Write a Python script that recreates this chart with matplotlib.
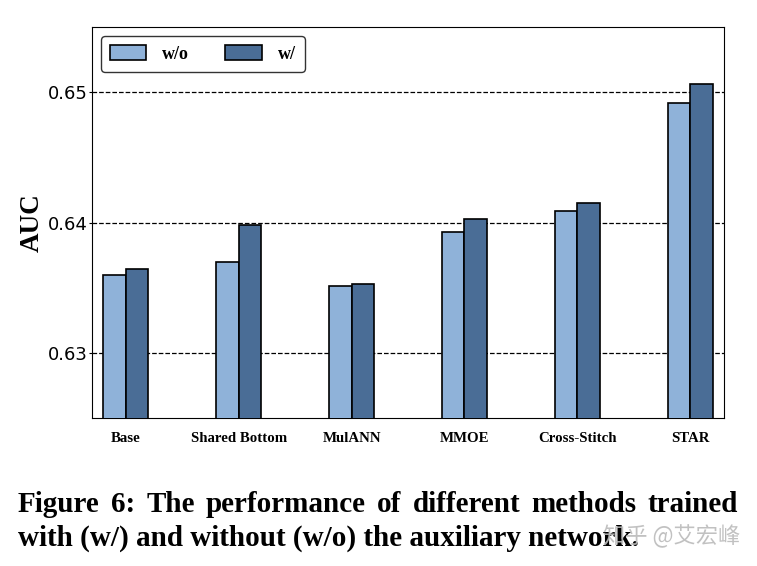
import matplotlib.pyplot as plt
import numpy as np

# --- data ---
methods = ['Base', 'Shared Bottom', 'MulANN', 'MMOE', 'Cross-Stitch', 'STAR']
auc_without = [0.6360, 0.6370, 0.6351, 0.6393, 0.6409, 0.6492]
auc_with = [0.6364, 0.6398, 0.6353, 0.6403, 0.6415, 0.6506]
y_ticks = [0.63, 0.64, 0.65]

light = '#8fb2d9'
dark = '#4a6d96'

fig = plt.figure(figsize=(7.57, 5.66), dpi=100)
ax = fig.add_axes([92 / 757, 1 - 418 / 566, 632 / 757, 391 / 566])

x = np.arange(len(methods))
w = 0.2
ax.bar(x - w / 2, auc_without, w, color=light, edgecolor='black',
       linewidth=1.2, label='w/o', zorder=3)
ax.bar(x + w / 2, auc_with, w, color=dark, edgecolor='black',
       linewidth=1.2, label='w/', zorder=3)

ax.set_xlim(-0.3, 5.3)
ax.set_ylim(0.625, 0.655)
ax.set_yticks(y_ticks)
ax.set_yticklabels(['0.63', '0.64', '0.65'], fontsize=13)
ax.yaxis.grid(True, linestyle='--', color='black', linewidth=0.9, zorder=0)
ax.set_xticks(x)
ax.set_xticklabels(methods, family='Liberation Serif', fontweight='bold',
                   fontsize=10.7)
ax.tick_params(axis='x', length=0, pad=10)
ax.tick_params(axis='y', length=2, pad=1, direction='out')
ax.set_ylabel('AUC', family='Liberation Serif', fontweight='bold',
              fontsize=19.5, labelpad=2)

leg = ax.legend(loc='upper left', ncol=2, frameon=True, fancybox=True,
                prop={'family': 'Liberation Serif', 'weight': 'bold',
                      'size': 13},
                handlelength=2.0, handleheight=0.9, columnspacing=2.0,
                handletextpad=0.9, borderpad=0.5, edgecolor='black')
leg.get_frame().set_linewidth(1.0)

# --- caption (first line justified word by word) ---
cap_font = dict(family='Liberation Serif', fontweight='bold', fontsize=21)
words = 'Figure 6: The performance of different methods trained'.split()
renderer = fig.canvas.get_renderer()
left, right = 18, 738
texts = [fig.text(0, 1 - 505 / 566, wd, va='center', ha='left', **cap_font)
         for wd in words]
widths = [t.get_window_extent(renderer).width for t in texts]
gap = (right - left - sum(widths)) / (len(words) - 1)
pos = left
for t, wd_px in zip(texts, widths):
    t.set_x(pos / 757)
    pos += wd_px + gap
fig.text(left / 757, 1 - 538 / 566,
         'with (w/) and without (w/o) the auxiliary network.',
         va='center', ha='left', **cap_font)
# watermark sits over the end of the caption, as in the source image
fig.text(740 / 757, 1 - 536 / 566, '知乎 @艾宏峰', va='center', ha='right',
         family=['Noto Sans CJK SC', 'DejaVu Sans'], fontsize=16,
         color='#bbbbbb', alpha=0.9)

fig.savefig('out.png', dpi=100)
